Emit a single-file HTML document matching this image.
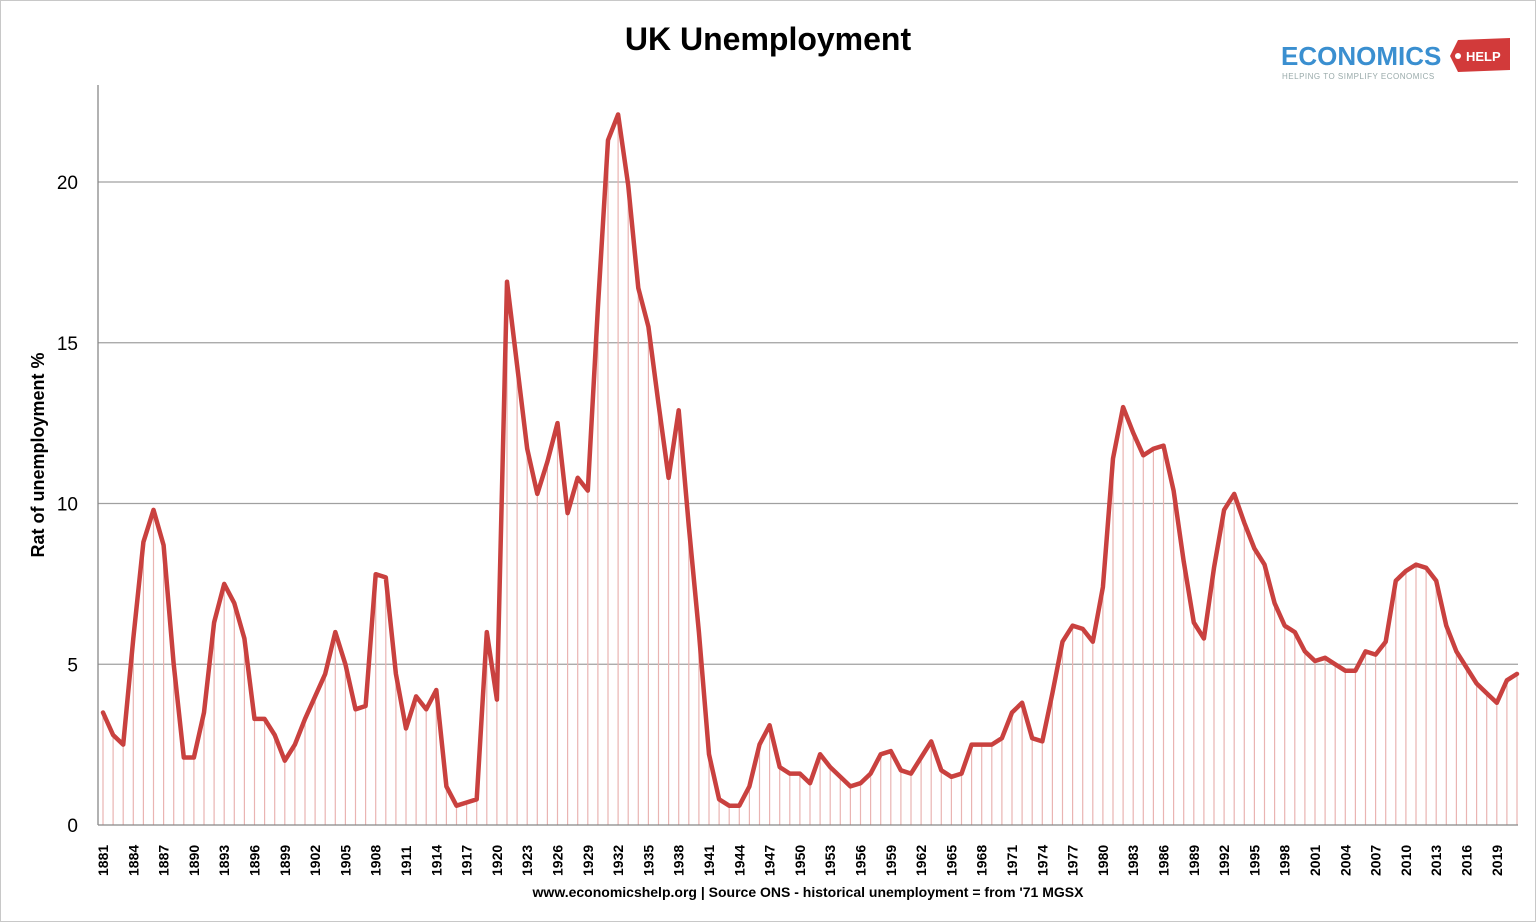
<!DOCTYPE html>
<html><head><meta charset="utf-8">
<style>
body{margin:0;background:#fff;font-family:"Liberation Sans",Arial,sans-serif}
svg{display:block}
</style></head><body>
<svg id="chart" width="1536" height="922" viewBox="0 0 1536 922">
<rect x="0.5" y="0.5" width="1535" height="921" fill="#fff" stroke="#c8c8c8"/>
<text x="768" y="50" text-anchor="middle" font-size="32" font-weight="bold" fill="#000">UK Unemployment</text>
<g>
<text x="1281" y="65" font-size="26" font-weight="bold" fill="#3a8fd0">ECONOMICS</text>
<path d="M1458 40 L1510 38 L1510 70 L1458 72 L1450 56 Z" fill="#d23a3a"/>
<circle cx="1458" cy="56" r="3" fill="#fff"/>
<text x="1466" y="61" font-size="13" font-weight="bold" fill="#fff">HELP</text>
<text x="1282" y="79" font-size="8" fill="#9aa" letter-spacing="0.5">HELPING TO SIMPLIFY ECONOMICS</text>
</g>
<g id="grid"></g>
<g id="drops"></g>
<g id="axes"></g>
<g id="series"></g>
<text x="0" y="0" transform="translate(44,455) rotate(-90)" text-anchor="middle" font-size="18" font-weight="bold" fill="#000">Rat of unemployment %</text>
<text x="808" y="897" text-anchor="middle" font-size="14" font-weight="bold" fill="#000">www.economicshelp.org | Source ONS - historical  unemployment = from '71 MGSX</text>
</svg>
<script>
const startYear = 1881;
const rates = [3.5,2.8,2.5,5.8,8.8,9.8,8.7,5.0,2.1,2.1,3.5,6.3,7.5,6.9,5.8,3.3,3.3,2.8,2.0,2.5,
3.3,4.0,4.7,6.0,5.0,3.6,3.7,7.8,7.7,4.7,3.0,4.0,3.6,4.2,1.2,0.6,0.7,0.8,6.0,3.9,
16.9,14.3,11.7,10.3,11.3,12.5,9.7,10.8,10.4,16.1,21.3,22.1,19.9,16.7,15.5,13.1,10.8,12.9,9.3,6.0,
2.2,0.8,0.6,0.6,1.2,2.5,3.1,1.8,1.6,1.6,1.3,2.2,1.8,1.5,1.2,1.3,1.6,2.2,2.3,1.7,
1.6,2.1,2.6,1.7,1.5,1.6,2.5,2.5,2.5,2.7,3.5,3.8,2.7,2.6,4.1,5.7,6.2,6.1,5.7,7.4,
11.4,13.0,12.2,11.5,11.7,11.8,10.4,8.2,6.3,5.8,8.0,9.8,10.3,9.4,8.6,8.1,6.9,6.2,6.0,5.4,
5.1,5.2,5.0,4.8,4.8,5.4,5.3,5.7,7.6,7.9,8.1,8.0,7.6,6.2,5.4,4.9,4.4,4.1,3.8,4.5,4.7];
const yTicks = [0,5,10,15,20];
const labelStep = 3;
const NS = "http://www.w3.org/2000/svg";
const x = yr => 103 + (yr - 1881) * 10.1;
const y = v => 825 - v * 32.15;
function mk(tag, attrs, parent){const e=document.createElementNS(NS,tag);for(const k in attrs)e.setAttribute(k,attrs[k]);parent.appendChild(e);return e;}
const grid=document.getElementById('grid'),drops=document.getElementById('drops'),axes=document.getElementById('axes'),series=document.getElementById('series');
yTicks.forEach(t=>{
  if(t>0){const l=mk('line',{x1:98,x2:1518,y1:y(t),y2:y(t),stroke:'#a0a0a0','stroke-width':1.3},grid);
  
  }
  const tx=mk('text',{x:78,y:y(t)+7,'text-anchor':'end','font-size':19,fill:'#000'},axes);
  tx.textContent=t;
  
  
});
const ya=mk('line',{x1:98,x2:98,y1:85,y2:825,stroke:'#888','stroke-width':1.3},axes);


const xa=mk('line',{x1:98,x2:1518,y1:825,y2:825,stroke:'#888','stroke-width':1.3},axes);


let pts=[];
rates.forEach((v,i)=>{
  const yr=startYear+i, px=x(yr), py=y(v);
  pts.push(px.toFixed(1)+','+py.toFixed(1));
  const d=mk('line',{x1:px,x2:px,y1:py,y2:825,stroke:'#eab4b2','stroke-width':1.2},drops);
  
  
  if(i%labelStep===0 && yr<=2019){
    const t=mk('text',{transform:`translate(${px+5},${876}) rotate(-90)`,'font-size':14,'font-weight':'bold',fill:'#000'},axes);
    t.textContent=yr;
    
    
  }
});
const pl=mk('polyline',{points:pts.join(' '),fill:'none',stroke:'#c9413f','stroke-width':4.5,'stroke-linejoin':'round','stroke-linecap':'round'},series);


</script>
</body></html>
